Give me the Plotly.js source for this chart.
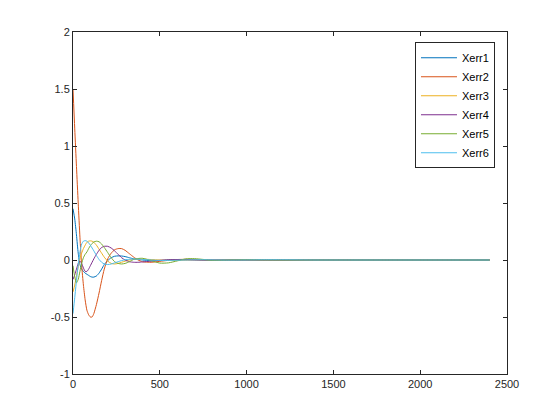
<!DOCTYPE html>
<html>
<head>
<meta charset="utf-8">
<script src="https://cdn.plot.ly/plotly-3.0.1.min.js"></script>
<style>
  html, body { margin: 0; padding: 0; background: #fff; }
  #chart { width: 560px; height: 420px; }
</style>
</head>
<body>
<div id="chart"></div>
<script>
// Sample positions (time steps)
const xSteps = [0, 10, 20, 30, 40, 50, 60, 70, 80, 90, 100, 110, 120, 135, 150, 165, 180, 200, 220, 240,
  260, 280, 300, 325, 350, 375, 400, 450, 500, 550, 600, 650, 700, 750, 800, 900, 1000, 1100, 1200,
  1400, 1600, 1800, 2000, 2200, 2400];

const xerr1 = [0.45, 0.36, 0.22, 0.06, -0.04, -0.08, -0.1, -0.115, -0.125, -0.135, -0.145, -0.15, -0.15, -0.14, -0.115, -0.08, -0.04, -0.005, 0.02, 0.033,
  0.036, 0.035, 0.03, 0.02, 0.01, 0.004, 0, -0.006, -0.005, 0, 0.003, 0.004, 0.002, 0, -0.002, -0.001, 0.001, 0.001, 0,
  0, 0, 0, 0, 0, 0];

const xerr2 = [1.5, 1.15, 0.82, 0.5, 0.2, -0.05, -0.22, -0.35, -0.44, -0.48, -0.5, -0.5, -0.47, -0.39, -0.29, -0.18, -0.08, 0.01, 0.06, 0.09,
  0.1, 0.1, 0.085, 0.055, 0.025, 0, -0.015, -0.02, -0.012, -0.003, 0.004, 0.006, 0.004, 0.001, -0.002, -0.002, 0, 0.002, 0.001,
  0, 0, 0, 0, 0, 0];

const xerr3 = [-0.28, -0.22, -0.14, -0.06, 0.01, 0.06, 0.1, 0.13, 0.155, 0.165, 0.168, 0.165, 0.155, 0.13, 0.095, 0.06, 0.025, -0.01, -0.03, -0.035,
  -0.03, -0.02, -0.01, 0, 0.006, 0.008, 0.008, 0.004, 0, -0.003, -0.003, -0.001, 0.001, 0.001, 0, 0, 0, 0, 0,
  0, 0, 0, 0, 0, 0];

const xerr4 = [-0.17, -0.13, -0.08, -0.03, -0.01, -0.03, -0.07, -0.1, -0.1, -0.08, -0.05, -0.02, 0.01, 0.05, 0.085, 0.11, 0.12, 0.12, 0.105, 0.08,
  0.05, 0.02, 0, -0.015, -0.02, -0.02, -0.017, -0.01, -0.003, 0.002, 0.004, 0.003, 0.001, 0, 0, 0, 0, 0, 0,
  0, 0, 0, 0, 0, 0];

const xerr5 = [-0.05, -0.15, -0.2, -0.17, -0.1, -0.03, 0.02, 0.05, 0.07, 0.1, 0.125, 0.145, 0.158, 0.165, 0.16, 0.14, 0.11, 0.065, 0.02, -0.015,
  -0.03, -0.035, -0.03, -0.015, 0.005, 0.013, 0.015, -0.005, -0.027, -0.025, -0.008, 0.01, 0.012, 0.005, -0.003, 0, 0.002, 0.001, 0,
  0, 0, 0, 0, 0, 0];

const xerr6 = [-0.47, -0.33, -0.18, -0.04, 0.07, 0.14, 0.165, 0.17, 0.165, 0.15, 0.13, 0.105, 0.08, 0.04, 0.005, -0.02, -0.035, -0.04, -0.035, -0.025,
  -0.015, -0.005, 0.002, 0.006, 0.008, 0.007, 0.005, 0, -0.004, -0.004, -0.002, 0, 0.002, 0.002, 0.001, -0.001, 0, 0.002, 0.002,
  0, 0, 0, 0, 0, 0];

const seriesNames = ['Xerr1', 'Xerr2', 'Xerr3', 'Xerr4', 'Xerr5', 'Xerr6'];
const seriesData = [xerr1, xerr2, xerr3, xerr4, xerr5, xerr6];
const seriesColors = ['#0072BD', '#D95319', '#EDB120', '#7E2F8E', '#77AC30', '#4DBEEE'];

const xTicks = [0, 500, 1000, 1500, 2000, 2500];
const yTicks = [-1, -0.5, 0, 0.5, 1, 1.5, 2];
const yTickText = ['-1', '-0.5', '0', '0.5', '1', '1.5', '2'];

const traces = seriesData.map((ys, i) => ({
  x: xSteps,
  y: ys,
  mode: 'lines',
  name: seriesNames[i],
  line: { color: seriesColors[i], width: 1, shape: 'spline', smoothing: 0.6 }
}));

const axisStyle = {
  showline: true,
  linecolor: '#262626',
  linewidth: 1,
  mirror: 'ticks',
  ticks: 'inside',
  ticklen: 4,
  tickcolor: '#262626',
  showgrid: false,
  zeroline: false,
  tickfont: { family: 'Liberation Sans, Arial, sans-serif', size: 11, color: '#262626' }
};

const layout = {
  width: 560,
  height: 420,
  paper_bgcolor: '#fff',
  plot_bgcolor: '#fff',
  margin: { l: 73, r: 53, t: 32, b: 46 },
  showlegend: true,
  legend: {
    x: 0.788, y: 0.97, xanchor: 'left', yanchor: 'top',
    bgcolor: '#fff',
    bordercolor: '#262626',
    borderwidth: 1,
    itemwidth: 36,
    font: { family: 'Liberation Sans, Arial, sans-serif', size: 11, color: '#000' }
  },
  xaxis: Object.assign({}, axisStyle, { range: [0, 2500], tickvals: xTicks }),
  yaxis: Object.assign({}, axisStyle, { range: [-1, 2], tickvals: yTicks, ticktext: yTickText })
};

Plotly.newPlot('chart', traces, layout, { displayModeBar: false, staticPlot: true });
</script>
</body>
</html>
